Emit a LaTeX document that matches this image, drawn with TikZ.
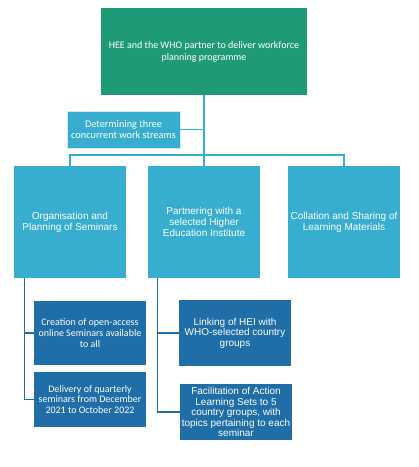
\documentclass[tikz,border=0pt]{standalone}
\usepackage{fontspec}
\setmainfont{Carlito}
\newfontfamily\arialfont{Liberation Sans}
\definecolor{heegreen}{HTML}{1F9A77}
\definecolor{streamblue}{HTML}{37AECF}
\definecolor{taskblue}{HTML}{1F6EA8}
\begin{document}
\begin{tikzpicture}[x=1pt,y=-1pt,
  box/.style={rectangle,inner sep=1pt,align=center,text=white,font=\fontsize{10}{12}\selectfont},
  headbox/.style={box,fill=heegreen,minimum width=206pt,minimum height=87pt},
  streambox/.style={box,fill=streamblue,minimum width=112pt,minimum height=112pt,font=\arialfont\fontsize{10}{11}\selectfont},
  notebox/.style={box,fill=streamblue,draw=streamblue!25,line width=0.8pt,minimum width=113pt,minimum height=37pt,font=\fontsize{10.3}{11}\selectfont},
  taskbox/.style={box,fill=taskblue,minimum width=112pt,font=\fontsize{10}{10.8}\selectfont},
  taskboxa/.style={taskbox,font=\arialfont\fontsize{10}{10.5}\selectfont},
  upline/.style={draw=streamblue,line width=1.2pt},
  downline/.style={draw=taskblue,line width=1.2pt}]
\useasboundingbox (0,0) rectangle (419,467);
\node[headbox] (hee) at (204,51.5){HEE and the WHO partner to deliver workforce\\planning programme};
\node[notebox] (det) at (123.5,129.5){Determining three\\concurrent work streams};
\node[streambox] (org) at (70,222){Organisation and\\Planning of Seminars};
\node[streambox] (part) at (204,222){Partnering with a\\selected Higher\\Education Institute};
\node[streambox] (coll) at (344,222){Collation and Sharing of\\Learning Materials};
\node[taskbox,minimum height=64pt] (crea) at (90,333){Creation of open-access\\online Seminars available\\to all};
\node[taskbox,minimum height=55pt] (deli) at (90,399.5){Delivery of quarterly\\seminars from December\\2021 to October 2022};
\node[taskboxa,minimum height=66pt] (link) at (235,333){Linking of HEI with\\WHO-selected country\\groups};
\node[taskboxa,minimum height=56pt] (faci) at (236,412){Facilitation of Action\\Learning Sets to 5\\country groups, with\\topics pertaining to each\\seminar};
\coordinate (bus) at (204,155);
\draw[upline] (hee) -- (part);
\draw[upline] (det.east) -- (det.east -| hee.south);
\draw[upline] (org.north) |- (bus) -| (coll.north);
\draw[downline] ([xshift=11pt]org.south west) |- (crea.west);
\draw[downline] ([xshift=11pt]org.south west) |- (deli.west);
\draw[downline] ([xshift=10pt]part.south west) |- (link.west);
\draw[downline] ([xshift=10pt]part.south west) |- (faci.west);
\end{tikzpicture}
\end{document}
